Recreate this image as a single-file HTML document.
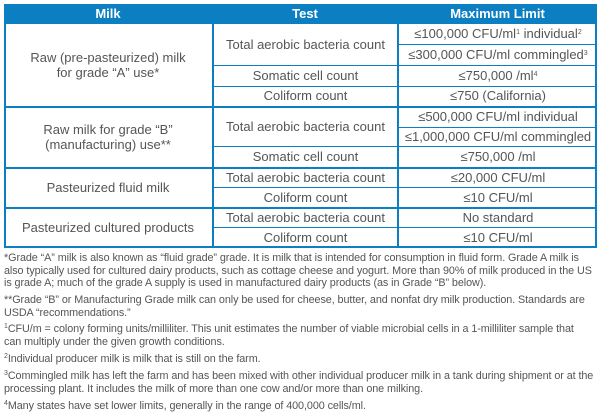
<!DOCTYPE html>
<html><head><style>
body{margin:0;width:600px;height:419px;background:#fff;font-family:"Liberation Sans",sans-serif;color:#555;position:relative;overflow:hidden}
.t{position:absolute;left:4px;top:4px;width:593px;height:244px;border:2px solid #0b7fc2;box-sizing:border-box}
.h{position:absolute;left:4px;top:4px;width:593px;height:20px;background:#0b7fc2}
.h div{position:absolute;top:0;line-height:20px;color:#fff;font-weight:bold;font-size:13px;text-align:center}
.l{position:absolute;background:#0b7fc2}
.c{position:absolute;text-align:center;font-size:13px;line-height:15px;white-space:nowrap}
.n{position:absolute;left:4px;font-size:10.8px;line-height:12.5px;white-space:nowrap;letter-spacing:-0.08px}
sup{font-size:7px;vertical-align:4px;line-height:0}
</style></head><body>
<div class="t"></div>
<div class="h"><div style="left:0;width:208px">Milk</div><div style="left:208px;width:186px">Test</div><div style="left:394px;width:199px">Maximum Limit</div></div>
<div class="l" style="left:212px;top:4px;width:2px;height:244px"></div>
<div class="l" style="left:397px;top:4px;width:2px;height:244px"></div>
<div class="l" style="left:4px;top:106px;width:593px;height:2px"></div>
<div class="l" style="left:4px;top:167px;width:593px;height:2px"></div>
<div class="l" style="left:4px;top:207px;width:593px;height:2px"></div>
<div class="l" style="left:399px;top:44px;width:198px;height:1px"></div>
<div class="l" style="left:212px;top:65px;width:385px;height:1px"></div>
<div class="l" style="left:212px;top:86px;width:385px;height:1px"></div>
<div class="l" style="left:399px;top:127px;width:198px;height:1px"></div>
<div class="l" style="left:212px;top:146px;width:385px;height:1px"></div>
<div class="l" style="left:212px;top:187px;width:385px;height:1px"></div>
<div class="l" style="left:212px;top:227px;width:385px;height:1px"></div>

<div class="c" style="left:4px;width:208px;top:50px">Raw (pre-pasteurized) milk<br>for grade “A” use*</div>
<div class="c" style="left:4px;width:208px;top:122px">Raw milk for grade “B”<br>(manufacturing) use**</div>
<div class="c" style="left:4px;width:208px;top:180px">Pasteurized fluid milk</div>
<div class="c" style="left:4px;width:208px;top:220px">Pasteurized cultured products</div>

<div class="c" style="left:214px;width:183px;top:37px">Total aerobic bacteria count</div>
<div class="c" style="left:214px;width:183px;top:68px">Somatic cell count</div>
<div class="c" style="left:214px;width:183px;top:88px">Coliform count</div>
<div class="c" style="left:214px;width:183px;top:119px">Total aerobic bacteria count</div>
<div class="c" style="left:214px;width:183px;top:149px">Somatic cell count</div>
<div class="c" style="left:214px;width:183px;top:170px">Total aerobic bacteria count</div>
<div class="c" style="left:214px;width:183px;top:190px">Coliform count</div>
<div class="c" style="left:214px;width:183px;top:210px">Total aerobic bacteria count</div>
<div class="c" style="left:214px;width:183px;top:230px">Coliform count</div>

<div class="c" style="left:399px;width:198px;top:26px">≤100,000 CFU/ml<sup>1</sup> individual<sup>2</sup></div>
<div class="c" style="left:399px;width:198px;top:47px">≤300,000 CFU/ml commingled<sup>3</sup></div>
<div class="c" style="left:399px;width:198px;top:68px">≤750,000 /ml<sup>4</sup></div>
<div class="c" style="left:399px;width:198px;top:88px">≤750 (California)</div>
<div class="c" style="left:399px;width:198px;top:109px">≤500,000 CFU/ml individual</div>
<div class="c" style="left:399px;width:198px;top:129px">≤1,000,000 CFU/ml commingled</div>
<div class="c" style="left:399px;width:198px;top:149px">≤750,000 /ml</div>
<div class="c" style="left:399px;width:198px;top:170px">≤20,000 CFU/ml</div>
<div class="c" style="left:399px;width:198px;top:190px">≤10 CFU/ml</div>
<div class="c" style="left:399px;width:198px;top:210px">No standard</div>
<div class="c" style="left:399px;width:198px;top:230px">≤10 CFU/ml</div>

<div class="n" style="top:252px">*Grade “A” milk is also known as “fluid grade” grade. It is milk that is intended for consumption in fluid form. Grade A milk is<br>also typically used for cultured dairy products, such as cottage cheese and yogurt. More than 90% of milk produced in the US<br>is grade A; much of the grade A supply is used in manufactured dairy products (as in Grade “B” below).</div>
<div class="n" style="top:294px">**Grade “B” or Manufacturing Grade milk can only be used for cheese, butter, and nonfat dry milk production. Standards are<br>USDA “recommendations.”</div>
<div class="n" style="top:323px"><sup>1</sup>CFU/m = colony forming units/milliliter. This unit estimates the number of viable microbial cells in a 1-milliliter sample that<br>can multiply under the given growth conditions.</div>
<div class="n" style="top:353px"><sup>2</sup>Individual producer milk is milk that is still on the farm.</div>
<div class="n" style="top:370px"><sup>3</sup>Commingled milk has left the farm and has been mixed with other individual producer milk in a tank during shipment or at the<br>processing plant. It includes the milk of more than one cow and/or more than one milking.</div>
<div class="n" style="top:400px"><sup>4</sup>Many states have set lower limits, generally in the range of 400,000 cells/ml.</div>
</body></html>
